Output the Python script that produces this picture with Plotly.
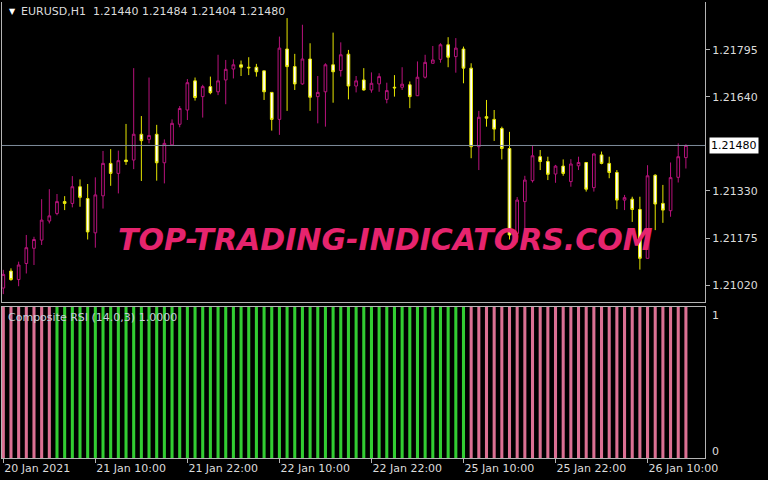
import plotly.graph_objects as go
from plotly.subplots import make_subplots

# ---- data (EURUSD H1) ----
opens = [1.21010, 1.21066, 1.21038, 1.21091, 1.21141, 1.21168, 1.21231, 1.21256, 1.21295, 1.21289,
         1.21344, 1.21305, 1.21192, 1.21314, 1.21421, 1.21388, 1.21432, 1.21432, 1.21517, 1.21500,
         1.21517, 1.21423, 1.21482, 1.21550, 1.21597, 1.21693, 1.21641, 1.21674, 1.21657, 1.21696,
         1.21732, 1.21746, 1.21738, 1.21738, 1.21726, 1.21655, 1.21566, 1.21798, 1.21740, 1.21683,
         1.21765, 1.21641, 1.21657, 1.21746, 1.21727, 1.21781, 1.21676, 1.21696, 1.21663, 1.21683,
         1.21632, 1.21672, 1.21672, 1.21680, 1.21644, 1.21705, 1.21751, 1.21764, 1.21812, 1.21773,
         1.21798, 1.21735, 1.21476, 1.21575, 1.21566, 1.21536, 1.21470, 1.21190, 1.21295, 1.21364,
         1.21443, 1.21427, 1.21386, 1.21412, 1.21361, 1.21413, 1.21424, 1.21341, 1.21449, 1.21421,
         1.21391, 1.21300, 1.21303, 1.21269, 1.21108, 1.21382, 1.21289, 1.21265, 1.21375, 1.21440]
highs = [1.21070, 1.21075, 1.21097, 1.21185, 1.21179, 1.21303, 1.21336, 1.21320, 1.21313, 1.21379,
         1.21368, 1.21353, 1.21375, 1.21462, 1.21468, 1.21463, 1.21551, 1.21735, 1.21577, 1.21704,
         1.21548, 1.21500, 1.21566, 1.21610, 1.21699, 1.21704, 1.21680, 1.21707, 1.21779, 1.21762,
         1.21764, 1.21760, 1.21771, 1.21749, 1.21726, 1.21655, 1.21839, 1.21900, 1.21782, 1.21878,
         1.21817, 1.21709, 1.21751, 1.21852, 1.21820, 1.21795, 1.21709, 1.21735, 1.21721, 1.21718,
         1.21687, 1.21712, 1.21738, 1.21691, 1.21757, 1.21779, 1.21808, 1.21817, 1.21837, 1.21834,
         1.21806, 1.21751, 1.21594, 1.21630, 1.21597, 1.21542, 1.21525, 1.21310, 1.21380, 1.21478,
         1.21465, 1.21443, 1.21416, 1.21434, 1.21435, 1.21443, 1.21424, 1.21454, 1.21460, 1.21443,
         1.21399, 1.21317, 1.21311, 1.21311, 1.21415, 1.21385, 1.21350, 1.21424, 1.21487, 1.21484]
lows = [1.20990, 1.21034, 1.21016, 1.21058, 1.21086, 1.21152, 1.21223, 1.21250, 1.21267, 1.21276,
        1.21278, 1.21170, 1.21143, 1.21272, 1.21347, 1.21322, 1.21416, 1.21402, 1.21363, 1.21487,
        1.21364, 1.21355, 1.21479, 1.21540, 1.21564, 1.21628, 1.21572, 1.21649, 1.21646, 1.21616,
        1.21701, 1.21709, 1.21712, 1.21707, 1.21630, 1.21529, 1.21515, 1.21594, 1.21663, 1.21680,
        1.21594, 1.21553, 1.21542, 1.21621, 1.21707, 1.21632, 1.21655, 1.21661, 1.21654, 1.21657,
        1.21619, 1.21641, 1.21663, 1.21603, 1.21643, 1.21701, 1.21751, 1.21753, 1.21738, 1.21720,
        1.21685, 1.21438, 1.21399, 1.21542, 1.21495, 1.21434, 1.21170, 1.21160, 1.21201, 1.21358,
        1.21399, 1.21366, 1.21357, 1.21380, 1.21344, 1.21399, 1.21328, 1.21328, 1.21418, 1.21372,
        1.21270, 1.21267, 1.21228, 1.21071, 1.21108, 1.21201, 1.21225, 1.21245, 1.21358, 1.21404]
closes = [1.21055, 1.21038, 1.21086, 1.21143, 1.21170, 1.21234, 1.21248, 1.21295, 1.21289, 1.21344,
          1.21309, 1.21195, 1.21317, 1.21421, 1.21388, 1.21430, 1.21427, 1.21517, 1.21496, 1.21513,
          1.21423, 1.21487, 1.21553, 1.21602, 1.21687, 1.21638, 1.21674, 1.21654, 1.21693, 1.21731,
          1.21746, 1.21738, 1.21736, 1.21723, 1.21657, 1.21566, 1.21801, 1.21740, 1.21683, 1.21765,
          1.21639, 1.21655, 1.21746, 1.21723, 1.21779, 1.21676, 1.21693, 1.21663, 1.21685, 1.21707,
          1.21661, 1.21670, 1.21682, 1.21641, 1.21705, 1.21754, 1.21762, 1.21812, 1.21771, 1.21801,
          1.21735, 1.21476, 1.21573, 1.21570, 1.21534, 1.21470, 1.21185, 1.21300, 1.21366, 1.21446,
          1.21427, 1.21385, 1.21412, 1.21388, 1.21419, 1.21424, 1.21336, 1.21452, 1.21421, 1.21391,
          1.21300, 1.21308, 1.21269, 1.21108, 1.21380, 1.21287, 1.21267, 1.21374, 1.21443, 1.21480]

# Composite RSI histogram value per bar and its state (1 = up / green, 0 = down / pink)
rsi_value = [1, 1, 1, 1, 1, 1, 1, 1, 1, 1, 1, 1, 1, 1, 1, 1, 1, 1, 1, 1, 1, 1, 1, 1, 1, 1, 1, 1, 1, 1,
             1, 1, 1, 1, 1, 1, 1, 1, 1, 1, 1, 1, 1, 1, 1, 1, 1, 1, 1, 1, 1, 1, 1, 1, 1, 1, 1, 1, 1, 1,
             1, 1, 1, 1, 1, 1, 1, 1, 1, 1, 1, 1, 1, 1, 1, 1, 1, 1, 1, 1, 1, 1, 1, 1, 1, 1, 1, 1, 1, 1]
rsi_state = [0, 0, 0, 0, 0, 0, 0, 1, 1, 1, 1, 1, 1, 1, 1, 1, 1, 1, 1, 1, 1, 1, 1, 1, 1, 1, 1, 1, 1, 1,
             1, 1, 1, 1, 1, 1, 1, 1, 1, 1, 1, 1, 1, 1, 1, 1, 1, 1, 1, 1, 1, 1, 1, 1, 1, 1, 1, 1, 1, 1,
             1, 0, 0, 0, 0, 0, 0, 0, 0, 0, 0, 0, 0, 0, 0, 0, 0, 0, 0, 0, 0, 0, 0, 0, 0, 0, 0, 0, 0, 0]

time_tick_bars = [0, 12, 24, 36, 48, 60, 72, 84]
time_tick_labels = ["20 Jan 2021", "21 Jan 10:00", "21 Jan 22:00", "22 Jan 10:00",
                    "22 Jan 22:00", "25 Jan 10:00", "25 Jan 22:00", "26 Jan 10:00"]
price_ticks = [1.21020, 1.21175, 1.21330, 1.21640, 1.21795]
last_price = 1.21480
title_text = "EURUSD,H1\u00a0\u00a01.21440 1.21484 1.21404 1.21480"
indicator_text = "Composite RSI (14.0,3) 1.0000"

bars = list(range(len(opens)))

FONT = "DejaVu Sans"
TXT = "#DCDCDC"
AXC = "#B4B4B4"

fig = make_subplots(rows=2, cols=1, shared_xaxes=True)

fig.add_trace(go.Candlestick(
    x=bars, open=opens, high=highs, low=lows, close=closes,
    increasing=dict(line=dict(color="#B8127C", width=1), fillcolor="#000000"),
    decreasing=dict(line=dict(color="#E6E600", width=1), fillcolor="#FFFFFF"),
    whiskerwidth=0, hoverinfo="skip", showlegend=False), row=1, col=1)

bar_colors = ["#32CD32" if s == 1 else "#DB7093" for s in rsi_state]
fig.add_trace(go.Bar(x=bars, y=rsi_value, marker=dict(color=bar_colors, line=dict(width=0)),
                     hoverinfo="skip", showlegend=False), row=2, col=1)

xr = [-0.17, 91.49]
fig.update_layout(
    width=768, height=480,
    margin=dict(l=2, r=63, t=2, b=22),
    paper_bgcolor="#000000", plot_bgcolor="#000000",
    boxgap=0.5, bargap=0.6,
    font=dict(family=FONT, size=11, color=TXT),
    showlegend=False,
    xaxis=dict(range=xr, rangeslider=dict(visible=False), showticklabels=False, ticks="",
               showgrid=False, zeroline=False, showline=True, linecolor=AXC, linewidth=1),
    xaxis2=dict(range=xr, showgrid=False, zeroline=False, showline=True, linecolor=AXC, linewidth=1,
                mirror=True, ticks="outside", ticklen=4, tickcolor=AXC,
                tickvals=time_tick_bars, ticktext=time_tick_labels,
                ticklabelposition="outside right",
                tickfont=dict(family=FONT, size=11, color=TXT)),
    yaxis=dict(domain=[0.3421, 1.0], range=[1.20964, 1.21953], side="right",
               showgrid=False, zeroline=False, showline=True, mirror=True, linecolor=AXC, linewidth=1,
               ticks="outside", ticklen=4, tickcolor=AXC,
               tickvals=price_ticks, ticktext=[f"{v:.5f}" for v in price_ticks],
               tickfont=dict(family=FONT, size=11, color=TXT)),
    yaxis2=dict(domain=[0.0, 0.3311], range=[0, 1], side="right",
                showgrid=False, zeroline=False, showline=True, mirror=True, linecolor=AXC, linewidth=1,
                showticklabels=False, ticks=""),
)

# current price line
fig.add_shape(type="line", xref="x domain", x0=0, x1=1, yref="y", y0=last_price, y1=last_price,
              line=dict(color="#7F8C9C", width=1))

# current price label
fig.add_annotation(xref="paper", x=1.0, xanchor="left", xshift=4, yref="y", y=last_price,
                   yanchor="middle", text=f"{last_price:.5f}", showarrow=False,
                   bgcolor="#FFFFFF", borderpad=1, font=dict(family=FONT, size=11, color="#000000"))

# title
fig.add_annotation(xref="paper", yref="paper", x=(7 - 2) / 703, y=(458 - 11) / 456,
                   xanchor="left", yanchor="middle", text="\u25BC", showarrow=False,
                   font=dict(family=FONT, size=8, color="#FFFFFF"))
fig.add_annotation(xref="paper", yref="paper", x=(19 - 2) / 703, y=(458 - 11) / 456,
                   xanchor="left", yanchor="middle", text=title_text, showarrow=False,
                   font=dict(family=FONT, size=11, color=TXT))

# indicator label
fig.add_annotation(xref="paper", yref="paper", x=(6 - 2) / 703, y=(458 - 317) / 456,
                   xanchor="left", yanchor="middle", text=indicator_text, showarrow=False,
                   font=dict(family=FONT, size=11, color="#C8D0DA"))

# indicator scale labels
fig.add_annotation(xref="paper", x=1.0, xanchor="left", xshift=5, yref="y2", y=1, yshift=-8,
                   yanchor="middle", text="1", showarrow=False, font=dict(family=FONT, size=11, color=TXT))
fig.add_annotation(xref="paper", x=1.0, xanchor="left", xshift=5, yref="y2", y=0, yshift=6,
                   yanchor="middle", text="0", showarrow=False, font=dict(family=FONT, size=11, color=TXT))

# watermark
fig.add_annotation(xref="paper", yref="paper", x=(385 - 2) / 703, y=(458 - 240) / 456,
                   xanchor="center", yanchor="middle", text="TOP-TRADING-INDICATORS.COM",
                   showarrow=False,
                   font=dict(family=FONT, size=30, color="#E6246E", weight="bold", style="italic"))

fig.write_html("out.html", config={"displayModeBar": False},
               post_script="document.body.style.margin='0';document.body.style.overflow='hidden';")
